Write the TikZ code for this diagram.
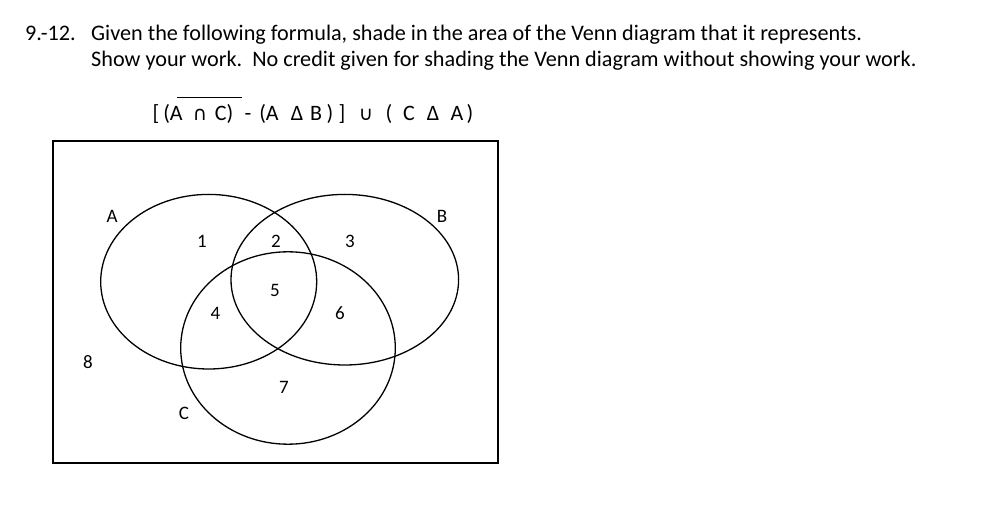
\documentclass[tikz,border=0pt]{standalone}
\usepackage{fontspec}
\setmainfont{Carlito}
\newfontfamily\symfont{DejaVu Sans}
\begin{document}
\begin{tikzpicture}[x=1pt,y=-1pt,
  venn/.style={draw=black,line width=1.3pt},
  lbl/.style={inner sep=0pt,font=\fontsize{19}{22}\selectfont},
  txt/.style={inner sep=0pt,anchor=base west,font=\fontsize{22.2}{26}\selectfont},
  tok/.style={inner sep=0pt,anchor=base,font=\fontsize{22}{26}\selectfont},
  sym/.style={tok,font=\symfont\fontsize{19.5}{22}\selectfont}]
\useasboundingbox[fill=white] (0,0) rectangle (986,510);
\node[txt] (num) at (25,41) {9.-12.};
\node[txt] (l1) at (91,41) {Given the following formula, shade in the area of the Venn diagram that it represents.};
\node[txt] (l2) at (91,67) {Show your work.\ \ No credit given for shading the Venn diagram without showing your work.};
% formula
\node[tok] (f1) at (156,121) {[};
\node[tok] (f2) at (173,121) {(A};
\node[sym] (f3) at (200,121) {∩};
\node[tok] (f4) at (224,121) {C)};
\node[tok] (f5) at (248,121) {-};
\node[tok] (f6) at (269,121) {(A};
\node[tok] (f7) at (297,121) {Δ};
\node[tok] (f8) at (316,121) {B};
\node[tok] (f9) at (330,121) {)};
\node[tok] (f10) at (342,121) {]};
\node[sym] (f11) at (366,121) {∪};
\node[tok] (f12) at (389,121) {(};
\node[tok] (f13) at (409,121) {C};
\node[tok] (f14) at (433,121) {Δ};
\node[tok] (f15) at (457,121) {A};
\node[tok] (f16) at (470,121) {)};
\draw[line width=0.8pt] (177,97) -- (242,97);
\draw[line width=1.5pt] (53,141) rectangle (498,463);
\draw[venn] (208.7,281.7) ellipse [x radius=108, y radius=87.3];
\draw[venn] (344.8,279.7) ellipse [x radius=113.8, y radius=85.3];
\draw[venn] (288,348) ellipse [x radius=107.3, y radius=96.2];
\node[lbl] (A) at (112,216) {A};
\node[lbl] (B) at (442,216) {B};
\node[lbl] (C) at (184,413) {C};
\node[lbl] (n1) at (202,241) {1};
\node[lbl] (n2) at (276,241) {2};
\node[lbl] (n3) at (350,241) {3};
\node[lbl] (n4) at (215.5,313) {4};
\node[lbl] (n5) at (275,290) {5};
\node[lbl] (n6) at (340,313) {6};
\node[lbl] (n7) at (284,387) {7};
\node[lbl] (n8) at (88,362) {8};
\end{tikzpicture}
\end{document}
